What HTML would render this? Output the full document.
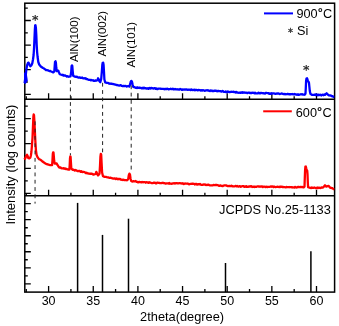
<!DOCTYPE html>
<html><head><meta charset="utf-8"><style>
html,body{margin:0;padding:0;background:#fff;width:339px;height:326px;overflow:hidden}
svg{display:block}
</style></head><body>
<svg width="339" height="326" viewBox="0 0 339 326" font-family='"Liberation Sans", Arial, sans-serif'>
<rect width="339" height="326" fill="#fff"/>
<line x1="77.6" y1="202.9" x2="77.6" y2="292.1" stroke="#000" stroke-width="1.5"/>
<line x1="102.5" y1="234.9" x2="102.5" y2="292.1" stroke="#000" stroke-width="1.5"/>
<line x1="128.5" y1="218.7" x2="128.5" y2="292.1" stroke="#000" stroke-width="1.5"/>
<line x1="225.5" y1="263" x2="225.5" y2="292.1" stroke="#000" stroke-width="1.5"/>
<line x1="310.9" y1="251.3" x2="310.9" y2="292.1" stroke="#000" stroke-width="1.5"/>
<path d="M26.28 99.3v-3 M48.60 99.3v-6 M70.92 99.3v-3 M93.25 99.3v-6 M115.57 99.3v-3 M137.90 99.3v-6 M160.22 99.3v-3 M182.55 99.3v-6 M204.88 99.3v-3 M227.20 99.3v-6 M249.52 99.3v-3 M271.85 99.3v-6 M294.18 99.3v-3 M316.50 99.3v-6 M26.28 195.7v-3 M48.60 195.7v-6 M70.92 195.7v-3 M93.25 195.7v-6 M115.57 195.7v-3 M137.90 195.7v-6 M160.22 195.7v-3 M182.55 195.7v-6 M204.88 195.7v-3 M227.20 195.7v-6 M249.52 195.7v-3 M271.85 195.7v-6 M294.18 195.7v-3 M316.50 195.7v-6 M26.28 292.1v-3 M48.60 292.1v-6 M70.92 292.1v-3 M93.25 292.1v-6 M115.57 292.1v-3 M137.90 292.1v-6 M160.22 292.1v-3 M182.55 292.1v-6 M204.88 292.1v-3 M227.20 292.1v-6 M249.52 292.1v-3 M271.85 292.1v-6 M294.18 292.1v-3 M316.50 292.1v-6 M24.8 8.20h3 M24.8 20.50h6 M24.8 32.80h3 M24.8 45.10h6 M24.8 57.40h3 M24.8 69.70h6 M24.8 82.00h3 M24.8 94.30h6 M24.8 106.13h3 M24.8 118.60h6 M24.8 131.06h3 M24.8 143.53h6 M24.8 156.00h3 M24.8 168.46h6 M24.8 180.92h3 M24.8 193.39h6 M24.8 203.70h6 M24.8 211.71h3 M24.8 219.72h6 M24.8 227.73h3 M24.8 235.74h6 M24.8 243.75h3 M24.8 251.76h6 M24.8 259.77h3 M24.8 267.78h6 M24.8 275.79h3 M24.8 283.80h6" stroke="#000" stroke-width="1.3" fill="none"/>
<rect x="24.8" y="3.2" width="309.8" height="288.90000000000003" fill="none" stroke="#000" stroke-width="1.5"/>
<line x1="24.8" y1="99.3" x2="334.6" y2="99.3" stroke="#000" stroke-width="1.5"/>
<line x1="24.8" y1="195.7" x2="334.6" y2="195.7" stroke="#000" stroke-width="1.5"/>
<polyline points="24.60,83.20 25.30,78.00 26.00,73.00 26.40,69.00 27.20,65.00 28.00,62.80 28.60,62.60 29.40,64.50 30.30,66.20 31.40,65.40 32.30,63.30 33.00,59.50 33.60,55.00 34.10,47.00 34.50,38.00 34.90,29.00 35.20,25.40 35.50,25.30 35.90,28.00 36.30,35.00 36.70,45.00 37.10,52.00 37.60,57.00 38.30,62.00 39.20,64.50 40.00,65.50 40.80,66.50 41.53,67.00 42.27,67.50 43.00,68.00 43.75,68.26 44.50,69.04 45.25,69.38 46.00,70.00 47.00,70.20 48.00,70.40 48.75,70.77 49.50,71.06 50.25,70.83 51.00,71.50 51.77,71.80 52.53,72.10 53.30,72.40 54.30,71.50 54.70,66.00 55.00,62.00 55.50,61.30 55.90,62.50 56.30,68.00 56.80,71.20 57.60,71.00 58.30,70.60 58.90,72.20 59.80,74.20 60.53,74.47 61.27,74.73 62.00,75.00 62.80,74.74 63.60,75.66 64.40,75.32 65.20,75.48 66.00,75.90 66.80,76.52 67.60,76.22 68.40,76.73 69.20,76.60 70.50,76.40 71.20,72.00 71.60,66.00 71.90,65.40 72.30,66.00 72.70,71.00 73.20,75.80 74.50,76.60 75.29,76.71 76.07,76.98 76.86,76.67 77.64,77.24 78.43,77.57 79.21,77.39 80.00,77.50 80.71,77.86 81.43,77.94 82.14,77.54 82.86,78.30 83.57,78.30 84.29,78.18 85.00,78.50 85.71,78.26 86.43,79.20 87.14,79.03 87.86,79.44 88.57,79.77 89.29,79.81 90.00,79.80 90.75,80.30 91.50,79.96 92.25,80.45 93.00,80.25 93.75,80.82 94.50,80.89 95.25,80.31 96.00,80.80 96.70,80.50 97.40,80.20 98.10,78.30 98.80,79.30 99.50,81.30 100.30,82.20 101.20,79.00 101.80,72.00 102.30,65.00 102.70,62.80 103.20,62.70 103.60,65.00 104.00,72.00 104.40,79.50 105.20,82.40 106.10,82.70 107.00,83.00 107.73,82.81 108.45,83.02 109.18,83.83 109.91,83.49 110.64,83.80 111.36,83.64 112.09,83.96 112.82,83.99 113.55,84.09 114.27,84.44 115.00,84.50 115.71,84.68 116.43,85.08 117.14,84.99 117.86,85.31 118.57,85.36 119.29,85.58 120.00,85.40 120.71,85.05 121.43,85.79 122.14,85.99 122.86,86.04 123.57,85.85 124.29,86.09 125.00,86.00 125.72,85.84 126.43,86.50 127.15,86.37 127.87,86.21 128.58,86.11 129.30,86.60 130.20,84.00 130.80,81.50 131.40,80.90 132.00,81.80 132.60,84.50 133.30,86.80 134.15,87.10 135.00,87.40 135.71,87.80 136.43,88.01 137.14,87.29 137.86,88.01 138.57,87.75 139.29,87.60 140.00,88.00 140.71,87.84 141.43,88.29 142.14,88.41 142.86,87.69 143.57,88.23 144.29,87.74 145.00,88.37 145.71,88.05 146.43,88.57 147.14,88.68 147.86,88.28 148.57,88.75 149.29,88.15 150.00,87.97 150.71,88.46 151.43,87.98 152.14,88.15 152.86,88.37 153.57,88.57 154.29,88.19 155.00,88.11 155.71,88.88 156.43,88.41 157.14,89.01 157.86,88.98 158.57,88.54 159.29,88.64 160.00,88.70 160.71,88.74 161.43,88.88 162.14,88.86 162.86,88.86 163.57,88.94 164.29,89.25 165.00,88.89 165.71,88.85 166.43,89.13 167.14,88.73 167.86,88.81 168.57,89.44 169.29,89.06 170.00,89.11 170.71,88.65 171.43,89.04 172.14,89.22 172.86,88.74 173.57,89.30 174.29,89.34 175.00,88.85 175.71,89.39 176.43,89.27 177.14,89.49 177.86,89.22 178.57,89.57 179.29,89.62 180.00,89.00 180.71,89.06 181.43,89.64 182.14,89.93 182.86,89.31 183.57,89.52 184.29,89.67 185.00,89.45 185.71,89.52 186.43,89.50 187.14,89.58 187.86,89.81 188.57,89.57 189.29,89.66 190.00,89.80 190.71,90.08 191.43,89.44 192.14,89.96 192.86,90.14 193.57,89.79 194.29,89.74 195.00,90.29 195.71,89.82 196.43,89.80 197.14,90.06 197.86,90.32 198.57,89.82 199.29,90.05 200.00,90.09 200.71,90.57 201.43,90.25 202.14,90.65 202.86,90.07 203.57,90.25 204.29,90.56 205.00,90.81 205.71,90.45 206.43,90.28 207.14,90.21 207.86,90.61 208.57,90.34 209.29,90.92 210.00,90.98 210.71,90.43 211.43,90.54 212.14,91.05 212.86,90.93 213.57,91.11 214.29,90.73 215.00,90.90 215.71,90.61 216.43,90.80 217.14,91.30 217.86,90.88 218.57,90.99 219.29,91.10 220.00,91.15 220.71,91.18 221.43,91.69 222.14,91.05 222.86,90.96 223.57,91.85 224.29,91.84 225.00,91.98 225.71,91.53 226.43,92.04 227.14,92.06 227.86,91.47 228.57,91.99 229.29,92.12 230.00,92.01 230.71,91.92 231.43,91.76 232.14,91.85 232.86,91.80 233.57,91.70 234.29,92.21 235.00,91.99 235.71,92.50 236.43,91.86 237.14,92.68 237.86,92.54 238.57,92.79 239.29,92.81 240.00,92.50 240.71,92.88 241.43,92.62 242.14,92.13 242.86,92.82 243.57,92.32 244.29,92.46 245.00,92.81 245.71,92.71 246.43,92.64 247.14,93.13 247.86,92.86 248.57,92.64 249.29,92.59 250.00,93.16 250.71,92.84 251.43,93.14 252.14,92.77 252.86,92.66 253.57,92.98 254.29,93.26 255.00,92.70 255.71,93.29 256.43,93.43 257.14,93.35 257.86,93.39 258.57,92.68 259.29,93.26 260.00,93.49 260.71,92.79 261.43,93.01 262.14,93.03 262.86,93.29 263.57,93.22 264.29,93.29 265.00,93.58 265.71,92.91 266.43,92.98 267.14,93.07 267.86,93.09 268.57,93.06 269.29,93.90 270.00,93.50 270.71,93.84 271.43,93.18 272.14,93.57 272.86,93.43 273.57,93.45 274.29,93.51 275.00,93.80 275.71,93.77 276.43,93.59 277.14,93.46 277.86,93.61 278.57,93.45 279.29,93.86 280.00,94.03 280.71,93.75 281.43,93.50 282.14,93.62 282.86,93.81 283.57,94.05 284.29,94.23 285.00,93.89 285.71,94.29 286.43,94.16 287.14,94.01 287.86,93.98 288.57,94.12 289.29,94.33 290.00,94.10 290.71,94.37 291.43,94.18 292.14,94.01 292.86,94.29 293.57,94.46 294.29,93.92 295.00,94.27 295.71,94.29 296.43,94.72 297.14,94.80 297.86,94.32 298.57,94.81 299.29,94.74 300.00,94.50 300.71,94.27 301.43,94.44 302.14,94.12 302.86,94.72 303.57,94.57 304.29,94.76 305.00,94.40 305.50,93.50 305.80,88.00 306.10,81.00 306.50,78.50 307.00,78.30 307.50,79.50 307.90,81.20 308.50,81.60 309.00,83.00 309.40,87.00 309.80,91.00 310.40,93.80 311.50,94.60 312.21,94.91 312.92,94.85 313.62,94.96 314.33,94.86 315.04,94.49 315.75,94.98 316.46,94.50 317.17,94.68 317.88,95.30 318.58,94.69 319.29,94.78 320.00,95.20 320.71,94.78 321.43,95.43 322.14,94.74 322.86,94.54 323.57,95.22 324.29,94.52 325.00,94.80 325.80,94.05 326.60,93.30 328.00,94.80 328.75,95.28 329.50,95.31 330.25,95.63 331.00,95.50 331.82,96.23 332.65,96.22 333.48,96.74 334.30,96.80" fill="none" stroke="#0000ff" stroke-width="2.3" stroke-linejoin="round"/>
<polygon points="24.0,72.8 26.6,72.4 27.8,80.5 25.8,83.8 24.0,83.6" fill="#0000ff"/>
<polyline points="24.30,159.60 25.20,158.50 26.20,156.00 27.00,154.80 27.60,155.80 28.30,158.20 29.30,158.40 30.30,157.60 30.90,155.50 31.40,152.00 31.90,146.00 32.50,138.00 33.00,126.00 33.40,116.50 33.70,114.50 34.00,115.00 34.40,121.00 34.90,132.00 35.40,142.00 35.90,150.00 36.60,155.00 37.60,157.30 39.00,159.10 39.93,159.54 40.87,159.99 41.80,160.90 42.53,161.47 43.27,162.03 44.00,162.60 45.00,163.20 46.00,163.80 46.83,164.10 47.67,164.40 48.50,164.70 49.30,164.87 50.10,165.03 50.90,165.20 52.10,165.20 52.50,160.00 52.80,154.00 53.10,152.40 53.50,152.60 53.80,156.00 54.20,161.00 54.70,163.50 55.70,163.50 56.70,163.40 57.60,165.20 58.90,167.20 59.67,167.61 60.45,167.37 61.23,168.06 62.00,168.30 62.77,168.34 63.54,168.22 64.31,168.78 65.09,168.51 65.86,169.03 66.63,168.86 67.40,169.40 68.40,169.50 69.40,169.60 69.70,165.00 70.00,158.50 70.30,156.30 70.60,157.00 70.90,162.00 71.30,168.30 72.50,169.80 73.25,169.57 74.00,170.01 74.75,170.51 75.50,170.02 76.25,170.25 77.00,170.75 77.75,171.18 78.50,170.99 79.25,170.97 80.00,171.20 80.73,171.83 81.45,171.19 82.18,172.12 82.91,171.81 83.64,171.88 84.36,172.06 85.09,172.43 85.82,173.08 86.55,172.71 87.27,173.27 88.00,173.40 88.75,173.66 89.50,173.56 90.25,173.86 91.00,173.56 91.75,173.69 92.50,173.96 93.25,174.52 94.00,174.50 94.80,174.25 95.60,174.00 96.30,171.90 97.00,173.20 98.00,175.40 98.75,174.60 99.50,173.80 100.00,166.00 100.40,157.00 100.80,153.80 101.20,154.80 101.60,163.00 102.10,172.50 103.00,176.20 103.95,176.55 104.90,176.90 105.62,176.96 106.34,176.98 107.06,177.34 107.79,177.34 108.51,177.33 109.23,177.89 109.95,177.93 110.67,177.64 111.39,178.06 112.11,178.14 112.84,178.57 113.56,178.56 114.28,178.29 115.00,178.60 115.71,179.13 116.42,178.46 117.14,178.83 117.85,179.23 118.56,178.79 119.27,179.19 119.98,178.89 120.69,179.55 121.41,179.74 122.12,179.67 122.83,180.04 123.54,179.63 124.25,180.08 124.96,180.08 125.68,180.17 126.39,180.16 127.10,180.30 128.20,179.20 128.80,175.20 129.40,173.60 130.00,174.60 130.50,178.50 131.20,181.00 131.96,181.37 132.72,181.52 133.48,181.16 134.24,181.39 135.00,181.30 135.71,181.03 136.43,181.74 137.14,181.82 137.86,182.26 138.57,182.23 139.29,181.88 140.00,182.20 140.71,182.13 141.43,182.42 142.14,181.87 142.86,182.29 143.57,182.06 144.29,182.05 145.00,182.03 145.71,182.70 146.43,182.16 147.14,182.29 147.86,182.46 148.57,182.92 149.29,182.24 150.00,182.60 150.71,182.73 151.43,183.06 152.14,183.03 152.86,183.11 153.57,182.61 154.29,182.77 155.00,182.75 155.71,183.25 156.43,183.35 157.14,182.66 157.86,182.71 158.57,182.79 159.29,182.83 160.00,183.10 160.71,183.11 161.43,183.22 162.14,182.94 162.86,182.73 163.57,183.12 164.29,183.10 165.00,183.29 165.71,183.66 166.43,183.44 167.14,183.30 167.86,183.42 168.57,183.49 169.29,182.95 170.00,183.73 170.71,183.64 171.43,183.74 172.14,183.69 172.86,183.35 173.57,183.37 174.29,183.12 175.00,183.62 175.71,183.13 176.43,183.15 177.14,183.30 177.86,183.27 178.57,183.45 179.29,183.21 180.00,183.18 180.71,183.34 181.43,183.31 182.14,183.57 182.86,183.28 183.57,184.07 184.29,183.85 185.00,183.45 185.71,183.56 186.43,183.67 187.14,183.70 187.86,183.50 188.57,184.18 189.29,184.32 190.00,183.90 190.71,183.91 191.43,183.96 192.14,183.64 192.86,183.69 193.57,183.95 194.29,183.92 195.00,184.46 195.71,183.90 196.43,183.81 197.14,184.69 197.86,184.34 198.57,184.04 199.29,184.43 200.00,184.01 200.71,184.50 201.43,184.94 202.14,184.87 202.86,184.76 203.57,184.41 204.29,184.54 205.00,184.40 205.71,184.98 206.43,184.81 207.14,185.07 207.86,184.70 208.57,184.64 209.29,185.21 210.00,185.40 210.71,185.32 211.43,185.32 212.14,185.37 212.86,185.33 213.57,184.91 214.29,185.21 215.00,185.10 215.71,184.85 216.43,184.88 217.14,185.15 217.86,185.17 218.57,185.60 219.29,185.87 220.00,185.50 220.71,185.48 221.43,185.95 222.14,186.02 222.86,186.02 223.57,185.52 224.29,185.42 225.00,185.45 225.71,185.46 226.43,185.49 227.14,185.90 227.86,186.17 228.57,186.15 229.29,185.85 230.00,186.04 230.71,186.20 231.43,185.58 232.14,186.13 232.86,186.38 233.57,186.30 234.29,186.30 235.00,186.08 235.71,185.84 236.43,186.42 237.14,186.03 237.86,186.49 238.57,186.67 239.29,186.18 240.00,186.21 240.71,186.73 241.43,186.56 242.14,186.09 242.86,186.08 243.57,186.13 244.29,186.84 245.00,186.50 245.71,186.78 246.43,186.20 247.14,186.82 247.86,186.97 248.57,186.68 249.29,186.42 250.00,186.60 250.71,186.24 251.43,186.14 252.14,187.01 252.86,186.73 253.57,186.63 254.29,187.00 255.00,186.56 255.71,186.96 256.43,186.93 257.14,186.39 257.86,186.43 258.57,186.48 259.29,186.44 260.00,186.76 260.71,186.47 261.43,186.62 262.14,186.37 262.86,187.08 263.57,186.59 264.29,186.69 265.00,186.82 265.71,187.11 266.43,186.69 267.14,187.14 267.86,186.78 268.57,186.81 269.29,186.81 270.00,186.80 270.71,186.38 271.43,186.77 272.14,186.54 272.86,186.39 273.57,187.12 274.29,186.56 275.00,186.84 275.71,187.08 276.43,186.94 277.14,186.74 277.86,186.92 278.57,186.96 279.29,187.18 280.00,186.58 280.71,187.00 281.43,186.73 282.14,186.76 282.86,187.22 283.57,186.99 284.29,187.05 285.00,187.23 285.71,187.38 286.43,186.97 287.14,187.13 287.86,187.04 288.57,187.06 289.29,187.23 290.00,187.02 290.71,187.11 291.43,187.07 292.14,187.49 292.86,187.28 293.57,187.45 294.29,187.52 295.00,186.92 295.71,187.20 296.43,187.55 297.14,187.47 297.86,186.84 298.57,186.84 299.29,187.14 300.00,187.20 300.78,186.84 301.56,187.01 302.34,186.88 303.12,187.43 303.90,187.30 304.50,186.60 304.80,178.00 305.10,170.00 305.40,166.60 305.80,166.50 306.30,168.50 306.80,170.30 307.20,170.50 307.50,174.00 307.80,182.00 308.10,187.20 309.50,187.60 310.29,187.88 311.07,188.01 311.86,187.37 312.64,187.91 313.43,187.89 314.21,187.45 315.00,187.80 315.73,188.13 316.45,188.18 317.18,187.49 317.91,188.13 318.64,187.62 319.36,187.68 320.09,188.11 320.82,187.95 321.55,187.33 322.27,187.56 323.00,187.60 324.00,186.45 325.00,185.30 326.30,186.60 327.50,186.20 328.70,186.00 330.00,187.60 330.72,187.88 331.43,187.99 332.15,188.13 332.87,188.50 333.58,189.13 334.30,189.20" fill="none" stroke="#ff0000" stroke-width="2.3" stroke-linejoin="round"/>
<line x1="70.4" y1="80.2" x2="70.4" y2="155.2" stroke="#222" stroke-width="1" stroke-dasharray="3.8,3.5" fill="none"/>
<line x1="102.6" y1="82.8" x2="102.6" y2="152.5" stroke="#222" stroke-width="1" stroke-dasharray="3.8,3.5" fill="none"/>
<line x1="131.2" y1="85.4" x2="131.2" y2="169.9" stroke="#222" stroke-width="1" stroke-dasharray="3.8,3.5" fill="none"/>
<line x1="35.05" y1="121.4" x2="35.05" y2="203.6" stroke="#222" stroke-width="1" stroke-dasharray="3.8,3.5" fill="none"/>
<text x="48.60" y="305.4" font-size="12.5" text-anchor="middle">30</text>
<text x="93.25" y="305.4" font-size="12.5" text-anchor="middle">35</text>
<text x="137.90" y="305.4" font-size="12.5" text-anchor="middle">40</text>
<text x="182.55" y="305.4" font-size="12.5" text-anchor="middle">45</text>
<text x="227.20" y="305.4" font-size="12.5" text-anchor="middle">50</text>
<text x="271.85" y="305.4" font-size="12.5" text-anchor="middle">55</text>
<text x="316.50" y="305.4" font-size="12.5" text-anchor="middle">60</text>
<text x="182.1" y="320.8" font-size="12.8" text-anchor="middle">2theta(degree)</text>
<text transform="translate(14.8,224.6) rotate(-90)" font-size="13">Intensity (log counts)</text>
<text transform="translate(77.5,61.9) rotate(-90)" font-size="11.5">AlN(100)</text>
<text transform="translate(105.9,56.4) rotate(-90)" font-size="11.5">AlN(002)</text>
<text transform="translate(135.3,67.4) rotate(-90)" font-size="11.5">AlN(101)</text>
<text x="35.2" y="23.9" font-size="13" text-anchor="middle" fill="#222" stroke="#222" stroke-width="0.25" font-family="DejaVu Sans, sans-serif">*</text>
<text x="306.2" y="74.3" font-size="13" text-anchor="middle" fill="#222" stroke="#222" stroke-width="0.25" font-family="DejaVu Sans, sans-serif">*</text>
<line x1="264" y1="13.4" x2="293" y2="13.4" stroke="#0000ff" stroke-width="2"/>
<text x="296.5" y="17.9" font-size="12.7">900<tspan dy="-0.9" stroke="#000" stroke-width="0.25">°</tspan><tspan dy="0.9" dx="0.35">C</tspan></text>
<text x="290.6" y="35.6" font-size="10" text-anchor="middle" fill="#333" stroke="#333" stroke-width="0.35" font-family="DejaVu Sans, sans-serif">*</text>
<text x="297" y="34.7" font-size="12.7">Si</text>
<line x1="263.2" y1="111.3" x2="291.8" y2="111.3" stroke="#ff0000" stroke-width="2"/>
<text x="295.8" y="116.9" font-size="12.7">600<tspan dy="-0.9" stroke="#000" stroke-width="0.25">°</tspan><tspan dy="0.9" dx="0.35">C</tspan></text>
<text x="330.9" y="214.4" font-size="12.85" text-anchor="end">JCPDS No.25-1133</text>
</svg>
</body></html>
